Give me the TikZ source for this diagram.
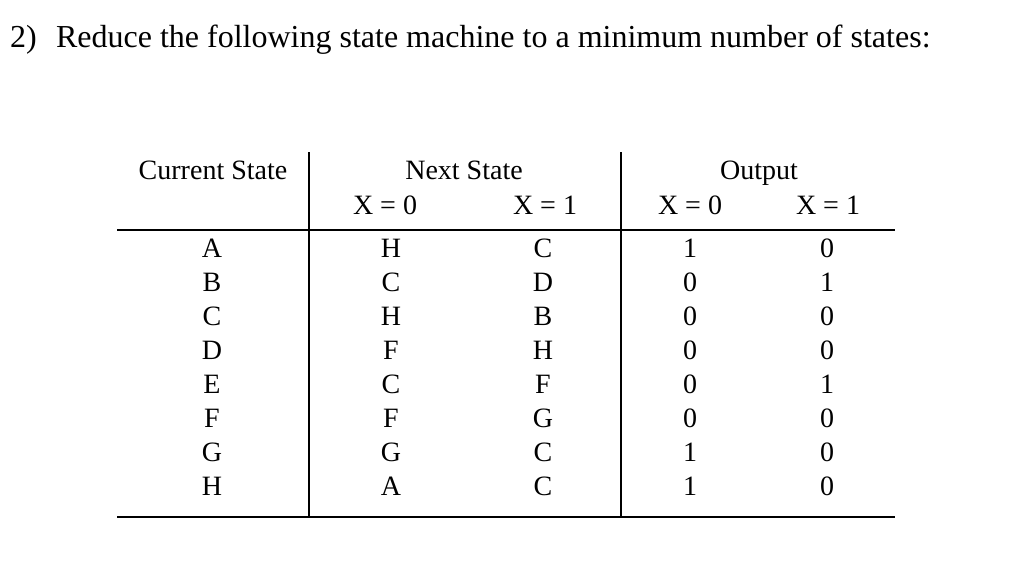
\documentclass[tikz,border=0pt]{standalone}
\usepackage{fontspec}
\setmainfont{Liberation Serif}
\begin{document}
\begin{tikzpicture}[x=1pt,y=-1pt,
  cell/.style={font=\fontsize{28}{32}\selectfont,inner sep=0pt,anchor=center,text height=14pt,text depth=4pt},
  rule/.style={line width=1.2pt}]
\useasboundingbox (0,0) rectangle (1024,579);
\node[anchor=west,inner sep=0pt,font=\fontsize{32}{38}\selectfont] (title) at (10,40) {2)\hspace{0.6em}Reduce the following state machine to a minimum number of states:};
\node[cell] (h1) at (213,174) {Current State};
\node[cell] (h2) at (464,174) {Next State};
\node[cell] (h3) at (759,174) {Output};
\node[cell] (s1) at (385,209) {X = 0};
\node[cell] (s2) at (545,209) {X = 1};
\node[cell] (s3) at (690,209) {X = 0};
\node[cell] (s4) at (828,209) {X = 1};
\coordinate (tl) at (117,230); \coordinate (tr) at (895,230);
\coordinate (bl) at (117,517); \coordinate (br) at (895,517);
\coordinate (v1t) at (309,152); \coordinate (v1b) at (309,517);
\coordinate (v2t) at (621,152); \coordinate (v2b) at (621,517);
\draw[rule] (tl) -- (tr);
\draw[rule] (bl) -- (br);
\draw[rule] (v1t) -- (v1b);
\draw[rule] (v2t) -- (v2b);
\foreach \a/\b/\c/\d/\e [count=\i from 0] in {A/H/C/1/0,B/C/D/0/1,C/H/B/0/0,D/F/H/0/0,E/C/F/0/1,F/F/G/0/0,G/G/C/1/0,H/A/C/1/0}{
  \pgfmathsetmacro{\yy}{252+34*\i}
  \node[cell] (r\i a) at (212,\yy) {\a};
  \node[cell] (r\i b) at (391,\yy) {\b};
  \node[cell] (r\i c) at (543,\yy) {\c};
  \node[cell] (r\i d) at (690,\yy) {\d};
  \node[cell] (r\i e) at (827,\yy) {\e};
}
\end{tikzpicture}
\end{document}
